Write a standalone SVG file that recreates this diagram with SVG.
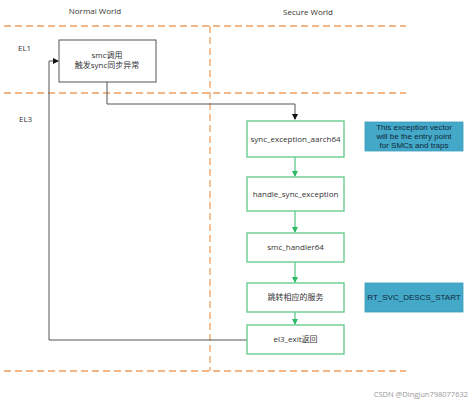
<svg xmlns="http://www.w3.org/2000/svg" width="474" height="403" viewBox="0 0 474 403">
<defs>
<style>
.lbl{font-family:"Open Sans","Noto Sans","Noto Sans CJK SC",sans-serif;font-size:8px;fill:#333;text-anchor:middle}
.side{font-family:"Open Sans","Noto Sans",sans-serif;font-size:8px;fill:#333}
.gbox{fill:#fff;stroke:#5cc98a;stroke-width:1.3}
.bbox{fill:#44a9c8;stroke:#3a9cbb;stroke-width:0.8}
.btxt{font-family:"Liberation Sans",Arial,sans-serif;font-size:8px;fill:#10283a;text-anchor:middle}
.dash{stroke:#f0a060;stroke-width:1.3;stroke-dasharray:7,4;fill:none}
.gline{stroke:#2dbb6a;stroke-width:1;fill:none}
.kline{stroke:#555;stroke-width:1;fill:none}
</style>
<marker id="ag" markerWidth="6" markerHeight="6" refX="5" refY="3" orient="auto" markerUnits="userSpaceOnUse"><path d="M0,0 L6,3 L0,6 Z" fill="#2dbb6a"/></marker>
<marker id="ak" markerWidth="6" markerHeight="6" refX="5" refY="3" orient="auto" markerUnits="userSpaceOnUse"><path d="M0,0 L6,3 L0,6 Z" fill="#111"/></marker>
</defs>
<rect width="474" height="403" fill="#fff"/>
<g id="lanes">
<line class="dash" x1="4" y1="26" x2="406" y2="26"/>
<line class="dash" x1="4" y1="93" x2="406" y2="93"/>
<line class="dash" x1="4" y1="371" x2="406" y2="371"/>
<line class="dash" x1="210" y1="26" x2="210" y2="371"/>
<text class="lbl" x="95" y="14">Normal World</text>
<text class="lbl" x="308" y="15">Secure World</text>
<text class="side" x="18" y="51">EL1</text>
<text class="side" x="19" y="122">EL3</text>
</g>
<g id="connectors">
<polyline class="kline" points="107,82 107,104 295,104 295,119" marker-end="url(#ak)"/>
<polyline class="kline" points="247,340 49,340 49,61 58,61" marker-end="url(#ak)"/>
<line class="gline" x1="295" y1="157" x2="295" y2="176" marker-end="url(#ag)"/>
<line class="gline" x1="295" y1="211" x2="295" y2="232" marker-end="url(#ag)"/>
<line class="gline" x1="295" y1="262" x2="295" y2="282" marker-end="url(#ag)"/>
<line class="gline" x1="295" y1="312" x2="295" y2="324" marker-end="url(#ag)"/>
</g>
<g id="smc">
<rect x="59" y="40" width="97" height="42" fill="#fff" stroke="#555" stroke-width="1"/>
<text class="lbl" x="107" y="58">smc调用</text>
<text class="lbl" x="107" y="68">触发sync同步异常</text>
</g>
<g id="sync_exception">
<rect class="gbox" x="247" y="121" width="97" height="36"/>
<text class="lbl" x="295.5" y="142">sync_exception_aarch64</text>
</g>
<g id="handle_sync">
<rect class="gbox" x="247" y="177" width="97" height="34"/>
<text class="lbl" x="295.5" y="197">handle_sync_exception</text>
</g>
<g id="smc_handler">
<rect class="gbox" x="247" y="233" width="97" height="29"/>
<text class="lbl" x="295.5" y="250">smc_handler64</text>
</g>
<g id="service">
<rect class="gbox" x="247" y="283" width="97" height="29"/>
<text class="lbl" x="295.5" y="300">跳转相应的服务</text>
</g>
<g id="el3_exit">
<rect class="gbox" x="247" y="325" width="97" height="29"/>
<text class="lbl" x="295.5" y="342">el3_exit返回</text>
</g>
<g id="note_vector">
<rect class="bbox" x="365" y="122" width="98" height="29"/>
<text class="btxt" x="414" y="130">This exception vector</text>
<text class="btxt" x="414" y="139">will be the entry point</text>
<text class="btxt" x="414" y="148">for SMCs and traps</text>
</g>
<g id="note_rt">
<rect class="bbox" x="365" y="283" width="98" height="29"/>
<text class="btxt" x="414" y="300">RT_SVC_DESCS_START</text>
</g>
<text x="468" y="397" style="font-family:'Open Sans','Noto Sans',sans-serif;font-size:7.5px;fill:#999;text-anchor:end">CSDN @Dingjun798077632</text>
</svg>
